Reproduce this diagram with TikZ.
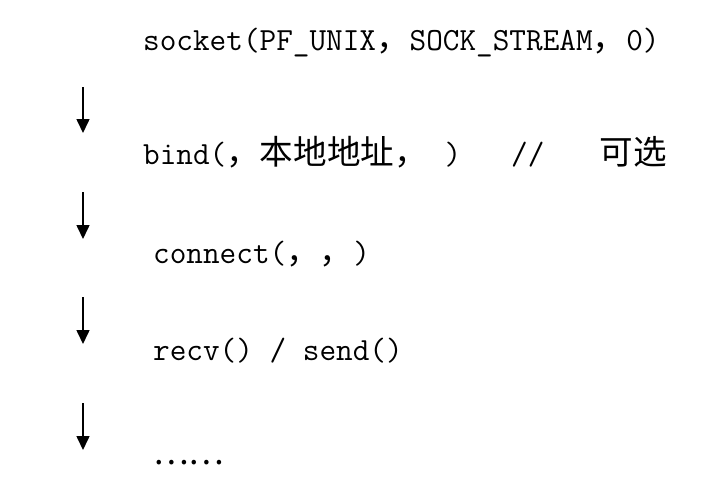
\documentclass[tikz,border=0pt]{standalone}
\usepackage{fontspec}
\usepackage{tikz}
\usetikzlibrary{arrows.meta, positioning}
\newfontfamily\cjk{Noto Sans CJK SC}
\newcommand{\zh}[1]{{\cjk\fontsize{33.6}{34}\selectfont #1}}

\begin{document}
\begin{tikzpicture}[x=1pt, y=-1pt,
    call/.style={anchor=base west, inner sep=0pt, font=\ttfamily\fontsize{32.3}{34}\selectfont},
    flow/.style={-{Triangle[width=13pt, length=14pt]}, line width=1.6pt}]
    \useasboundingbox (0,0) rectangle (715,498);

    \node[call] (socket) at (143,50) {socket(PF\_UNIX\zh{，}SOCK\_STREAM\zh{，}0)};
    \node[call] (bind) at (143,164) {bind(\zh{，本地地址，}\ )\ \ \ //\hspace{55pt}\zh{可选}};
    \node[call] (connect) at (153,263) {connect(\zh{，，})};
    \node[call] (recv) at (153,360) {recv()\ /\ send()};
    \node[call] (more) at (153,464) {\zh{……}};

    % arrows sit left of the calls
    \foreach \i/\top/\tip in {1/87/133, 2/192/239, 3/297/344, 4/403/450} {
        \coordinate (from\i) at (83,\top);
        \coordinate (to\i) at (83,\tip);
        \draw[flow] (from\i) -- (to\i);
    }
\end{tikzpicture}
\end{document}
